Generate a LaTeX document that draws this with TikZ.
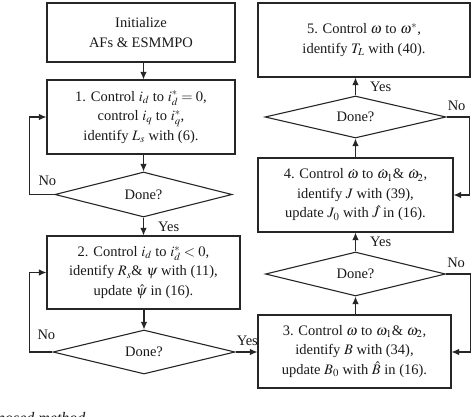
\documentclass[tikz,border=0pt]{standalone}
\usepackage{mathptmx}
\usepackage{fontspec}
\setmainfont{Liberation Serif}
\usepackage{tikz}
\usetikzlibrary{positioning,shapes.geometric,arrows.meta}
\definecolor{lineclr}{rgb}{0.15, 0.15, 0.15}
\definecolor{txtclr}{rgb}{0.1, 0.1, 0.1}
\tikzset{ %
  ,>={Latex[length=7.5pt, width=6.5pt]}
  ,every node/.style={font=\fontsize{14.5}{19.5}\selectfont, text=txtclr}
  ,stepbox/.style={draw=lineclr, line width=1.1pt, rectangle, align=center, inner sep=0}
  ,check/.style={draw=lineclr, line width=1.1pt, diamond, inner sep=0, aspect=4}
  ,lbl/.style={inner sep=1pt}
  ,flow/.style={draw=lineclr, line width=1.1pt, ->}
}

\begin{document}
\begin{tikzpicture}[x=1pt, y=-1pt]
      \useasboundingbox (0,0) rectangle (474,416);
      \draw
      node[stepbox, minimum width=188pt, minimum height=59pt] (init) at (141,32.5) {Initialize\\AFs \& ESMMPO}
      node[stepbox, minimum width=188pt, minimum height=74pt] (s1) at (141,117) {1. Control $i_d$ to $i_d^*=0$,\\control $i_q$ to $i_q^*$,\\identify $L_s$ with (6).}
      node[check, minimum width=177pt, minimum height=45pt] (d1) at (143.5,194.5) {Done?}
      node[stepbox, minimum width=193pt, minimum height=73pt] (s2) at (143.5,272.5) {2. Control $i_d$ to $i_d^*<0$,\\identify $R_s$\& $\psi$ with (11),\\update $\hat{\psi}$ in (16).}
      node[check, minimum width=182pt, minimum height=44pt] (d2) at (144,352) {Done?}
      node[stepbox, minimum width=193pt, minimum height=73pt] (s3) at (354.5,351.5) {3. Control $\omega$ to $\omega_1$\& $\omega_2$,\\identify $B$ with (34),\\update $B_0$ with $\hat{B}$ in (16).}
      node[check, minimum width=180pt, minimum height=44pt] (d4) at (355.5,274) {Done?}
      node[stepbox, minimum width=195pt, minimum height=74pt] (s4) at (355.5,195) {4. Control $\dot{\omega}$ to $\dot{\omega}_1$\& $\dot{\omega}_2$,\\identify $J$ with (39),\\update $J_0$ with $\hat{J}$ in (16).}
      node[check, minimum width=181pt, minimum height=42pt] (d3) at (355.5,117) {Done?}
      node[stepbox, minimum width=212pt, minimum height=74pt] (s5) at (364,40) {5. Control $\omega$ to $\omega^*$,\\identify $T_L$ with (40).};
      % left column
      \draw [flow] (init.south -| d1.north) -- (d1.north |- s1.north);
      \draw [flow] (s1.south -| d1.north) -- (d1.north);
      \draw [flow] (d1.south) -- node[lbl, right=13pt] {Yes} (d1.south |- s2.north);
      \draw [flow] (d1.west) -- ++(-25,0) |- (s1.west);
      \draw [flow] (s2.south -| d2.north) -- (d2.north);
      \draw [flow] (d2.west) -- ++(-23,0) |- (s2.west);
      \draw [flow] (d2.east) -- (d2.east -| s3.west);
      \node[lbl, above left=8pt and -3pt of d1.west] (no1) {No};
      \node[lbl, above left=11pt and -4pt of d2.west] (no2) {No};
      \node[lbl, above right=5pt and 0pt of d2.east] (yes2) {Yes};
      % right column
      \draw [flow] (s3.north -| d4.south) -- (d4.south);
      \draw [flow] (d4.north) -- node[lbl, right=13pt] {Yes} (d4.north |- s4.south);
      \draw [flow] (d4.east) -- ++(24,0) |- (s3.east |- d2.east);
      \draw [flow] (s4.north -| d3.south) -- (d3.south);
      \draw [flow] (d3.north) -- node[lbl, right=13pt] {Yes} (d3.north |- s5.south);
      \draw [flow] (d3.east) -- ++(23,0) |- (s4.east);
      \node[lbl, above right=5pt and 0pt of d4.east] (no4) {No};
      \node[lbl, above right=5pt and 0pt of d3.east] (no3) {No};
      \node[font=\fontsize{16}{18}\selectfont\itshape, anchor=base east] (cap) at (89,423) {proposed method};
\end{tikzpicture}
\end{document}
